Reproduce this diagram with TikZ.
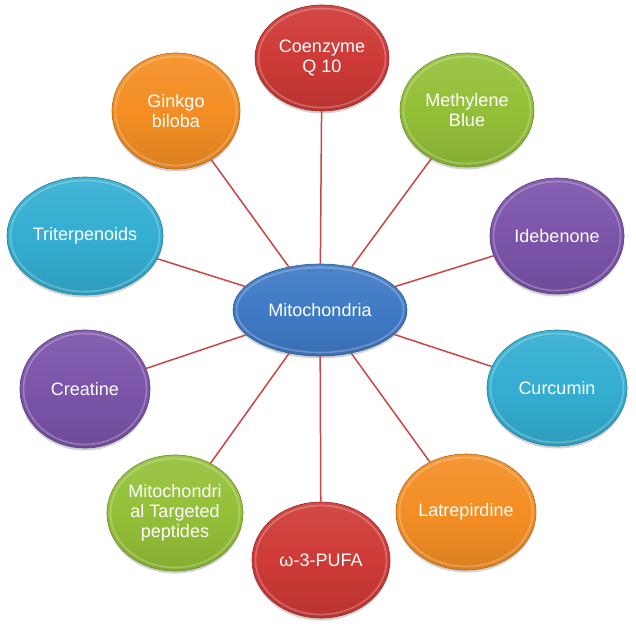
\documentclass[tikz,border=0pt]{standalone}
\usepackage{fontspec}
\setmainfont{Liberation Sans}
\usetikzlibrary{shapes.geometric,shadows,calc}
\definecolor{cred}{RGB}{206,58,55}
\definecolor{cgreen}{RGB}{148,192,56}
\definecolor{cpurple}{RGB}{124,84,170}
\definecolor{ccyan}{RGB}{52,174,210}
\definecolor{corange}{RGB}{244,142,36}
\definecolor{cblue}{RGB}{64,122,198}
\definecolor{linkred}{RGB}{202,70,70}
\tikzset{
  bub/.style={ellipse, inner sep=0pt, align=center, text=white,
    font=\fontsize{18}{20}\selectfont,
    top color=#1!92!white, bottom color=#1!90!black, middle color=#1,
    draw=#1!72!black, line width=0.6pt,
    drop shadow={shadow xshift=0pt, shadow yshift=-2.5pt, opacity=.25, fill=black!70},
    path picture={\draw[white, opacity=.25, line width=1.6pt]
      let \p1=(path picture bounding box.north east),
          \p2=(path picture bounding box.center) in
      (\p2) ellipse [x radius=\x1-\x2-3.5pt, y radius=\y1-\y2-3.5pt];}},
  sz/.style 2 args={minimum width=#1pt, minimum height=#2pt},
  link/.style={draw=linkred, line width=1.5pt}
}
\begin{document}
\begin{tikzpicture}[x=1pt,y=-1pt]
\useasboundingbox[fill=white] (0,0) rectangle (636,626);
\node[bub=cred,    sz={134}{106}] (coq)  at (322,58)  {Coenzyme\\Q 10};
\node[bub=cgreen,  sz={134}{114}] (meb)  at (467,110) {Methylene\\Blue};
\node[bub=cpurple, sz={134}{116}] (ide)  at (557,236) {Idebenone};
\node[bub=ccyan,   sz={140}{116}] (cur)  at (557,388) {Curcumin};
\node[bub=corange, sz={140}{116}] (lat)  at (466,512) {Latrepirdine};
\node[bub=cred,    sz={138}{116}] (pufa) at (321,560) {ω-3-PUFA};
\node[bub=cgreen,  sz={136}{116}] (pep)  at (175,513) {Mitochondri\\al Targeted\\peptides};
\node[bub=cpurple, sz={130}{118}] (cre)  at (85,389)  {Creatine};
\node[bub=ccyan,   sz={156}{118}] (tri)  at (85,236)  {Triterpenoids};
\node[bub=corange, sz={128}{116}] (gin)  at (176,111) {Ginkgo\\biloba};
\node[bub=cblue,   sz={174}{92}]  (mit)  at (320,310) {Mitochondria};
\foreach \n in {coq,meb,ide,cur,lat,pufa,pep,cre,tri,gin}
  \draw[link] (mit) -- (\n);
\end{tikzpicture}
\end{document}
